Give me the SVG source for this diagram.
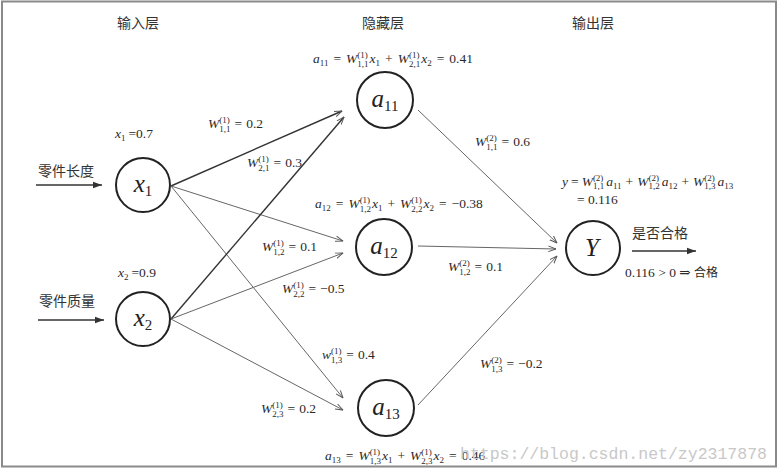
<svg xmlns="http://www.w3.org/2000/svg" width="778" height="469" viewBox="0 0 778 469">
<defs>
<marker id="ah" viewBox="0 0 10 10" refX="9.5" refY="5" markerWidth="8" markerHeight="8" orient="auto" markerUnits="userSpaceOnUse">
<path d="M0,1.5 L9.5,5 L0,8.5" fill="none" stroke="#555" stroke-width="1.2"/>
</marker>
<marker id="ahk" viewBox="0 0 10 10" refX="10" refY="5" markerWidth="9" markerHeight="9" orient="auto" markerUnits="userSpaceOnUse">
<path d="M0,1.5 L10,5 L0,8.5 Z" fill="#333"/>
</marker>
</defs>
<style>
.t{font-family:"Liberation Serif","DejaVu Serif",serif;font-size:13.5px;fill:#2a2a2a}
.i{font-style:italic}
.s{font-size:9px}
.cn{font-family:"Noto Sans CJK SC","Noto Sans CJK TC",sans-serif;font-size:14px;fill:#333}
.n{font-family:"Liberation Serif",serif;font-size:25px;fill:#222}
.ns{font-size:15px;font-style:normal}
.c{fill:#fff;stroke:#222;stroke-width:2}
.e{fill:none;stroke:#666;stroke-width:1}
.ed{fill:none;stroke:#333;stroke-width:1.4}
.io{fill:none;stroke:#333;stroke-width:1.5}
.wm{font-family:"Liberation Mono",monospace;font-size:16.5px;fill:#c8c8c8}
</style>
<rect x="0" y="0" width="778" height="469" fill="#fff"/>
<rect x="2" y="1.5" width="774" height="465" fill="none" stroke="#8a8a8a" stroke-width="2"/>

<g id="titles">
<text class="cn" x="138" y="28" text-anchor="middle">输入层</text>
<text class="cn" x="383" y="28" text-anchor="middle">隐藏层</text>
<text class="cn" x="593" y="28" text-anchor="middle">输出层</text>
</g>

<g id="connectors">
<line class="ed" x1="171" y1="186" x2="342" y2="111" marker-end="url(#ah)"/>
<line class="e" x1="171" y1="186" x2="343" y2="241" marker-end="url(#ah)"/>
<line class="e" x1="171" y1="186" x2="343" y2="398" marker-end="url(#ah)"/>
<line class="ed" x1="171" y1="319" x2="344" y2="117" marker-end="url(#ah)"/>
<line class="e" x1="171" y1="319" x2="343" y2="253" marker-end="url(#ah)"/>
<line class="e" x1="171" y1="319" x2="343" y2="410" marker-end="url(#ah)"/>
<line class="e" x1="418" y1="110" x2="557" y2="243" marker-end="url(#ah)"/>
<line class="e" x1="418" y1="246" x2="556" y2="249" marker-end="url(#ah)"/>
<line class="e" x1="418" y1="405" x2="557" y2="256" marker-end="url(#ah)"/>
<line class="io" x1="36" y1="185" x2="102" y2="185" marker-end="url(#ahk)"/>
<line class="io" x1="38" y1="320" x2="104" y2="320" marker-end="url(#ahk)"/>
<line class="io" x1="632" y1="251" x2="696" y2="251" marker-end="url(#ahk)"/>
</g>

<g id="node-x1">
<circle class="c" cx="143" cy="185" r="27"/>
<text class="n" x="143" y="192" text-anchor="middle"><tspan class="i">x</tspan><tspan class="ns" dy="4">1</tspan></text>
</g>
<g id="node-x2">
<circle class="c" cx="143" cy="319" r="27"/>
<text class="n" x="143" y="326" text-anchor="middle"><tspan class="i">x</tspan><tspan class="ns" dy="4">2</tspan></text>
</g>
<g id="node-a11">
<circle class="c" cx="385" cy="100" r="28"/>
<text class="n" x="385" y="107" text-anchor="middle"><tspan class="i">a</tspan><tspan class="ns" dy="4">11</tspan></text>
</g>
<g id="node-a12">
<circle class="c" cx="384" cy="247" r="28"/>
<text class="n" x="384" y="254" text-anchor="middle"><tspan class="i">a</tspan><tspan class="ns" dy="4">12</tspan></text>
</g>
<g id="node-a13">
<circle class="c" cx="386" cy="408" r="28"/>
<text class="n" x="386" y="415" text-anchor="middle"><tspan class="i">a</tspan><tspan class="ns" dy="4">13</tspan></text>
</g>
<g id="node-Y">
<circle class="c" cx="593" cy="248" r="27"/>
<text class="n" x="592" y="256" text-anchor="middle" font-size="23"><tspan class="i">Y</tspan></text>
</g>

<g id="inputs">
<text class="cn" x="38" y="176" font-size="15">零件长度</text>
<text class="cn" x="39" y="306" font-size="15">零件质量</text>
<text class="t" x="115" y="138" font-size="12.5"><tspan class="i">x</tspan><tspan class="s" dy="3">1</tspan><tspan dy="-3" dx="3">=0.7</tspan></text>
<text class="t" x="118" y="277" font-size="12.5"><tspan class="i">x</tspan><tspan class="s" dy="3">2</tspan><tspan dy="-3" dx="3">=0.9</tspan></text>
</g>

<g id="weights">
<text class="t" x="208" y="128"><tspan class="i">W</tspan><tspan class="s" dy="-5.5">(1)</tspan><tspan class="s" dx="-10.5" dy="9">1,1</tspan><tspan dy="-3.5" dx="4">=</tspan><tspan dx="4">0.2</tspan></text>
<text class="t" x="247" y="167"><tspan class="i">W</tspan><tspan class="s" dy="-5.5">(1)</tspan><tspan class="s" dx="-10.5" dy="9">2,1</tspan><tspan dy="-3.5" dx="4">=</tspan><tspan dx="4">0.3</tspan></text>
<text class="t" x="262" y="251"><tspan class="i">W</tspan><tspan class="s" dy="-5.5">(1)</tspan><tspan class="s" dx="-10.5" dy="9">1,2</tspan><tspan dy="-3.5" dx="4">=</tspan><tspan dx="4">0.1</tspan></text>
<text class="t" x="282" y="293"><tspan class="i">W</tspan><tspan class="s" dy="-5.5">(1)</tspan><tspan class="s" dx="-10.5" dy="9">2,2</tspan><tspan dy="-3.5" dx="4">=</tspan><tspan dx="4">−0.5</tspan></text>
<text class="t" x="322" y="359"><tspan class="i">w</tspan><tspan class="s" dy="-5.5">(1)</tspan><tspan class="s" dx="-10.5" dy="9">1,3</tspan><tspan dy="-3.5" dx="4">=</tspan><tspan dx="4">0.4</tspan></text>
<text class="t" x="261" y="413"><tspan class="i">W</tspan><tspan class="s" dy="-5.5">(1)</tspan><tspan class="s" dx="-10.5" dy="9">2,3</tspan><tspan dy="-3.5" dx="4">=</tspan><tspan dx="4">0.2</tspan></text>
<text class="t" x="475" y="146"><tspan class="i">W</tspan><tspan class="s" dy="-5.5">(2)</tspan><tspan class="s" dx="-10.5" dy="9">1,1</tspan><tspan dy="-3.5" dx="4">=</tspan><tspan dx="4">0.6</tspan></text>
<text class="t" x="448" y="271"><tspan class="i">W</tspan><tspan class="s" dy="-5.5">(2)</tspan><tspan class="s" dx="-10.5" dy="9">1,2</tspan><tspan dy="-3.5" dx="4">=</tspan><tspan dx="4">0.1</tspan></text>
<text class="t" x="480" y="368"><tspan class="i">W</tspan><tspan class="s" dy="-5.5">(2)</tspan><tspan class="s" dx="-10.5" dy="9">1,3</tspan><tspan dy="-3.5" dx="4">=</tspan><tspan dx="4">−0.2</tspan></text>
</g>

<g id="formulas">
<text class="t" x="313" y="63"><tspan class="i">a</tspan><tspan class="s" dy="3">11</tspan><tspan dy="-3" dx="5">=</tspan><tspan class="i" dx="5">W</tspan><tspan class="s" dy="-5.5">(1)</tspan><tspan class="s" dx="-10.5" dy="9">1,1</tspan><tspan class="i" dy="-3.5" dx="1">x</tspan><tspan class="s" dy="3">1</tspan><tspan dy="-3" dx="5">+</tspan><tspan class="i" dx="5">W</tspan><tspan class="s" dy="-5.5">(1)</tspan><tspan class="s" dx="-10.5" dy="9">2,1</tspan><tspan class="i" dy="-3.5" dx="1">x</tspan><tspan class="s" dy="3">2</tspan><tspan dy="-3" dx="5">=</tspan><tspan dx="5">0.41</tspan></text>
<text class="t" x="315" y="208"><tspan class="i">a</tspan><tspan class="s" dy="3">12</tspan><tspan dy="-3" dx="5">=</tspan><tspan class="i" dx="5">W</tspan><tspan class="s" dy="-5.5">(1)</tspan><tspan class="s" dx="-10.5" dy="9">1,2</tspan><tspan class="i" dy="-3.5" dx="1">x</tspan><tspan class="s" dy="3">1</tspan><tspan dy="-3" dx="5">+</tspan><tspan class="i" dx="5">W</tspan><tspan class="s" dy="-5.5">(1)</tspan><tspan class="s" dx="-10.5" dy="9">2,2</tspan><tspan class="i" dy="-3.5" dx="1">x</tspan><tspan class="s" dy="3">2</tspan><tspan dy="-3" dx="5">=</tspan><tspan dx="5">−0.38</tspan></text>
<text class="t" x="325" y="460"><tspan class="i">a</tspan><tspan class="s" dy="3">13</tspan><tspan dy="-3" dx="5">=</tspan><tspan class="i" dx="5">W</tspan><tspan class="s" dy="-5.5">(1)</tspan><tspan class="s" dx="-10.5" dy="9">1,3</tspan><tspan class="i" dy="-3.5" dx="1">x</tspan><tspan class="s" dy="3">1</tspan><tspan dy="-3" dx="5">+</tspan><tspan class="i" dx="5">W</tspan><tspan class="s" dy="-5.5">(1)</tspan><tspan class="s" dx="-10.5" dy="9">2,3</tspan><tspan class="i" dy="-3.5" dx="1">x</tspan><tspan class="s" dy="3">2</tspan><tspan dy="-3" dx="5">=</tspan><tspan dx="5">0.46</tspan></text>
<text class="t" x="562" y="186" font-size="13"><tspan class="i">y</tspan><tspan dx="3">=</tspan><tspan class="i" dx="3">W</tspan><tspan class="s" dy="-5.5">(2)</tspan><tspan class="s" dx="-10.5" dy="8.5">1,1</tspan><tspan class="i" dy="-3" dx="2">a</tspan><tspan class="s" dy="3">11</tspan><tspan dy="-3" dx="4">+</tspan><tspan class="i" dx="4">W</tspan><tspan class="s" dy="-5.5">(2)</tspan><tspan class="s" dx="-10.5" dy="8.5">1,2</tspan><tspan class="i" dy="-3" dx="2">a</tspan><tspan class="s" dy="3">12</tspan><tspan dy="-3" dx="4">+</tspan><tspan class="i" dx="4">W</tspan><tspan class="s" dy="-5.5">(2)</tspan><tspan class="s" dx="-10.5" dy="8.5">1,3</tspan><tspan class="i" dy="-3" dx="2">a</tspan><tspan class="s" dy="3">13</tspan></text>
<text class="t" x="577" y="204" font-size="13">= 0.116</text>
</g>

<g id="output">
<text class="cn" x="632" y="238" font-size="15">是否合格</text>
<text class="t" x="625" y="277" font-size="12.5">0.116 &gt; 0 ⇒ <tspan font-family="Noto Sans CJK SC" font-size="12">合格</tspan></text>
</g>

<text class="wm" x="460" y="459">https://blog.csdn.net/zy2317878</text>
</svg>
